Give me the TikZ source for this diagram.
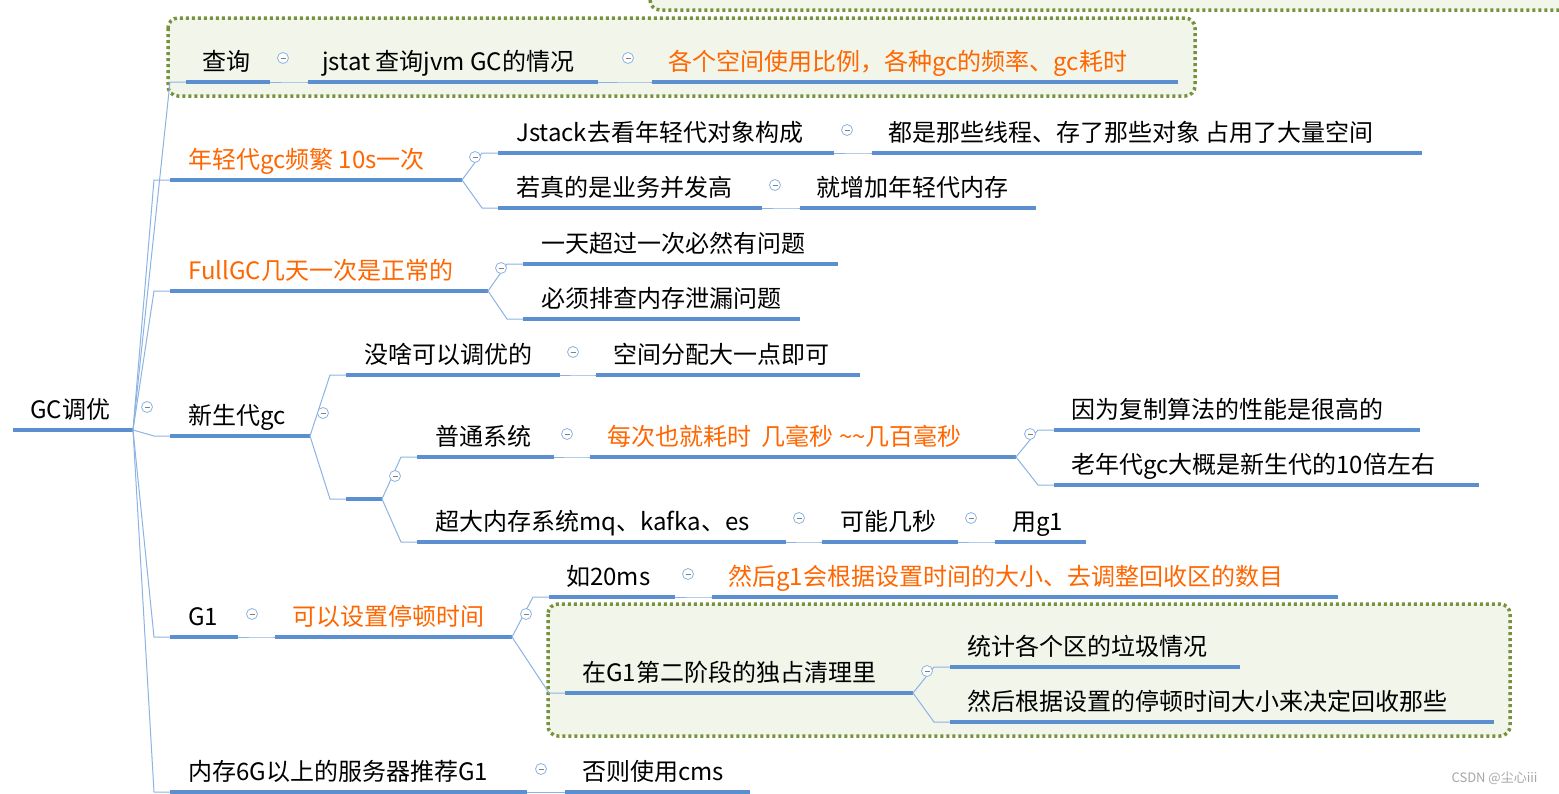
\documentclass[tikz,border=0pt]{standalone}
\usepackage{fontspec}
\setmainfont{Noto Sans CJK SC}
\usetikzlibrary{calc}
\definecolor{ulc}{HTML}{5B8FD0}
\definecolor{cnc}{HTML}{8DB3E2}
\definecolor{orng}{HTML}{FF6600}
\definecolor{boxf}{HTML}{F1F5EA}
\definecolor{boxd}{HTML}{77923C}
\tikzset{
  ul/.style={draw=ulc,line width=4pt},
  conn/.style={draw=cnc,line width=1pt},
  lbl/.style={anchor=base west,inner sep=0pt,font=\fontsize{24}{28}\selectfont},
  grp/.style={draw=boxd,line width=3.5pt,dash pattern=on 3pt off 3pt,fill=boxf,rounded corners=10pt},
  ico/.style={circle,draw=cnc,fill=white,line width=0.8pt,minimum size=11pt,inner sep=0pt,path picture={\draw[gray,line width=1pt] ([xshift=-2.5pt]path picture bounding box.center)--([xshift=2.5pt]path picture bounding box.center);}}
}
\newcommand\topic[7]{%
  \coordinate (#1-s) at (#3,#5);
  \coordinate (#1-e) at (#4,#5);
  \draw[ul] (#1-s) -- (#1-e);
  \node[lbl,text=#6] (#1) at (#2,#5-12) {#7};}
\newcommand\link[2]{%
  \draw[conn] (#1-e) -- ($(#2-s)+(-16,0)$ |- #1-e) .. controls ($(#2-s)+(-16,0)$) and ($(#2-s)+(-16,0)$) .. (#2-s);}
\newcommand\icon[3]{\node[ico] (#1) at (#2,#3) {};}
\begin{document}
\begin{tikzpicture}[x=1pt,y=-1pt]
\useasboundingbox[fill=white] (0,0) rectangle (1559,793);
\path[grp] (650,-40) rectangle (1620,10);
\path[grp] (168,18) rectangle (1195,96);
\path[grp] (548,604) rectangle (1510,736);
% topics
\topic{root}{30}{13}{133}{430}{black}{GC调优}
\topic{q}{202}{186}{270}{82}{black}{查询}
\topic{q1}{322}{308}{598}{82}{black}{jstat 查询jvm GC的情况}
\topic{q2}{668}{652}{1178}{82}{orng}{各个空间使用比例，各种gc的频率、gc耗时}
\topic{y}{188}{170}{462}{180}{orng}{年轻代gc频繁 10s一次}
\topic{y1}{516}{498}{834}{153}{black}{Jstack去看年轻代对象构成}
\topic{y11}{888}{872}{1422}{153}{black}{都是那些线程、存了那些对象 占用了大量空间}
\topic{y2}{516}{498}{762}{208}{black}{若真的是业务并发高}
\topic{y21}{816}{800}{1036}{208}{black}{就增加年轻代内存}
\topic{f}{188}{170}{488}{291}{orng}{FullGC几天一次是正常的}
\topic{f1}{541}{523}{838}{264}{black}{一天超过一次必然有问题}
\topic{f2}{541}{523}{800}{319}{black}{必须排查内存泄漏问题}
\topic{n}{188}{170}{310}{436}{black}{新生代gc}
\topic{n1}{364}{346}{560}{375}{black}{没啥可以调优的}
\topic{n11}{613}{596}{860}{375}{black}{空间分配大一点即可}
\topic{n2}{350}{346}{382}{499}{black}{}
\topic{n21}{435}{417}{554}{457}{black}{普通系统}
\topic{n211}{607}{590}{1016}{457}{orng}{每次也就耗时\ \ 几毫秒 \textasciitilde\textasciitilde 几百毫秒}
\topic{n2111}{1071}{1054}{1420}{430}{black}{因为复制算法的性能是很高的}
\topic{n2112}{1071}{1054}{1479}{485}{black}{老年代gc大概是新生代的10倍左右}
\topic{n22}{435}{417}{786}{542}{black}{超大内存系统mq、kafka、es}
\topic{n221}{840}{822}{958}{542}{black}{可能几秒}
\topic{n2211}{1012}{995}{1086}{542}{black}{用g1}
\topic{g}{188}{170}{238}{637}{black}{G1}
\topic{g1}{292}{275}{512}{637}{orng}{可以设置停顿时间}
\topic{g11}{566}{549}{675}{597}{black}{如20ms}
\topic{g111}{728}{712}{1338}{597}{orng}{然后g1会根据设置时间的大小、去调整回收区的数目}
\topic{g12}{582}{565}{913}{693}{black}{在G1第二阶段的独占清理里}
\topic{g121}{967}{950}{1240}{667}{black}{统计各个区的垃圾情况}
\topic{g122}{967}{950}{1494}{722}{black}{然后根据设置的停顿时间大小来决定回收那些}
\topic{m}{188}{170}{527}{792}{black}{内存6G以上的服务器推荐G1}
\topic{m1}{582}{565}{750}{792}{black}{否则使用cms}
% links
\foreach \a/\b in {root/q,root/y,root/f,root/n,root/g,root/m,q/q1,q1/q2,y/y1,y1/y11,y/y2,y2/y21,f/f1,f/f2,n/n1,n1/n11,n/n2,n2/n21,n21/n211,n211/n2111,n211/n2112,n2/n22,n22/n221,n221/n2211,g/g1,g1/g11,g11/g111,g1/g12,g12/g121,g12/g122,m/m1}{\link{\a}{\b}}
% icons
\icon{i0}{147}{407}\icon{i1}{283}{58}\icon{i2}{628}{58}\icon{i3}{475}{157}
\icon{i4}{847}{130}\icon{i5}{775}{185}\icon{i6}{501}{268}\icon{i7}{323}{413}
\icon{i8}{573}{352}\icon{i9}{395}{476}\icon{i10}{567}{434}\icon{i11}{1030}{434}
\icon{i12}{799}{518}\icon{i13}{971}{518}\icon{i14}{252}{614}\icon{i15}{526}{614}
\icon{i16}{688}{574}\icon{i17}{927}{671}\icon{i18}{541}{769}
\node[anchor=base west,text=gray!70,font=\fontsize{13}{15}\selectfont] (wm) at (1448,782) {CSDN @尘心iii};
\end{tikzpicture}
\end{document}
